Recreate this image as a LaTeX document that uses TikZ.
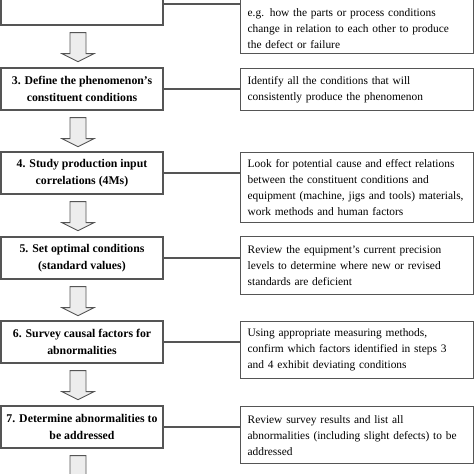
\documentclass[tikz,border=0pt]{standalone}
\usepackage{fontspec}
\setmainfont{Liberation Serif}
\usetikzlibrary{calc}
\definecolor{edge}{HTML}{555555}
\definecolor{arrowfill}{HTML}{EDEDED}
\begin{document}
\begin{tikzpicture}[x=1pt,y=-1pt,
  lbox/.style={draw=edge,line width=1.3pt,fill=white,minimum width=162pt,minimum height=42pt,inner sep=1pt,align=center,font=\fontsize{11.8}{17}\selectfont\bfseries},
  rbox/.style={draw=edge,line width=1.3pt,fill=white,anchor=north west,minimum width=233pt,inner xsep=7pt,inner ysep=4pt,text width=219pt,align=left,font=\fontsize{11.4}{16}\selectfont},
  conn/.style={draw=edge,line width=1.1pt},
  barrow/.pic={\draw[draw=edge,fill=arrowfill,line width=0.9pt,line join=miter] (-8,0) -- (8,0) -- (8,21) -- (16,21) -- (0,29) -- (-16,21) -- (-8,21) -- cycle;}]
\useasboundingbox (0,0) rectangle (474,474);
\clip (0,0) rectangle (474,474);
% left column
\node[lbox] (s2) at (82,4) {};
\node[lbox] (s3) at (82,89) {3. Define the phenomenon’s\\constituent conditions};
\node[lbox] (s4) at (82,173) {4. Study production input\\correlations (4Ms)};
\node[lbox] (s5) at (82,258) {5. Set optimal conditions\\(standard values)};
\node[lbox] (s6) at (82,342) {6. Survey causal factors for\\abnormalities};
\node[lbox] (s7) at (82,427) {7. Determine abnormalities to\\be addressed};
% right column
\node[rbox,minimum height=70pt] (r2) at (240,-17) {\strut\\e.g. how the parts or process conditions\\change in relation to each other to produce\\the defect or failure};
\node[rbox,minimum height=42pt] (r3) at (240,68) {Identify all the conditions that will\\consistently produce the phenomenon};
\node[rbox,minimum height=70pt] (r4) at (240,152) {Look for potential cause and effect relations\\between the constituent conditions and\\equipment (machine, jigs and tools) materials,\\work methods and human factors};
\node[rbox,minimum height=58pt] (r5) at (240,236) {Review the equipment’s current precision\\levels to determine where new or revised\\standards are deficient};
\node[rbox,minimum height=57pt] (r6) at (240,321) {Using appropriate measuring methods,\\confirm which factors identified in steps 3\\and 4 exhibit deviating conditions};
\node[rbox,minimum height=57pt] (r7) at (240,406) {Review survey results and list all\\abnormalities (including slight defects) to be\\addressed};
% connectors
\foreach \n in {2,3,4,5,6,7}{
  \draw[conn] (s\n.east) -- (r\n.west |- s\n.east);
}
% block arrows
\foreach \n in {2,3,4,5,6,7}{
  \pic at ($(s\n.south)+(-4,7)$) {barrow};
}
\end{tikzpicture}
\end{document}
